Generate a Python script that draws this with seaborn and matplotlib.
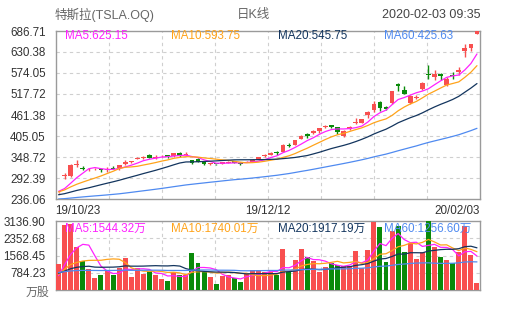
import numpy as np
import pandas as pd
import matplotlib
matplotlib.use("Agg")
import matplotlib.pyplot as plt
import seaborn as sns

# ---------------- data ----------------
dates = ["19/10/23", "19/10/24", "19/10/25", "19/10/28", "19/10/29", "19/10/30", "19/10/31",
         "19/11/01", "19/11/04", "19/11/05", "19/11/06", "19/11/07", "19/11/08", "19/11/11",
         "19/11/12", "19/11/13", "19/11/14", "19/11/15", "19/11/18", "19/11/19", "19/11/20",
         "19/11/21", "19/11/22", "19/11/25", "19/11/26", "19/11/27", "19/11/29",
         "19/12/02", "19/12/03", "19/12/04", "19/12/05", "19/12/06", "19/12/09", "19/12/10",
         "19/12/11", "19/12/12", "19/12/13", "19/12/16", "19/12/17", "19/12/18", "19/12/19",
         "19/12/20", "19/12/23", "19/12/24", "19/12/26", "19/12/27", "19/12/30", "19/12/31",
         "20/01/02", "20/01/03", "20/01/06", "20/01/07", "20/01/08", "20/01/09", "20/01/10",
         "20/01/13", "20/01/14", "20/01/15", "20/01/16", "20/01/17", "20/01/21", "20/01/22",
         "20/01/23", "20/01/24", "20/01/27", "20/01/28", "20/01/29", "20/01/30", "20/01/31",
         "20/02/03"]

opens = [254.50, 298.37, 297.72, 327.54, 319.99, 313.00, 313.10, 316.32, 314.80, 319.62,
         318.00, 329.14, 334.50, 343.95, 346.90, 355.00, 346.11, 350.64, 352.92, 351.35,
         360.00, 354.51, 340.16, 344.32, 335.27, 331.12, 331.11, 329.40, 332.62, 337.75,
         332.83, 335.00, 336.59, 339.97, 351.51, 354.92, 361.05, 362.55, 380.00, 380.63,
         397.32, 410.29, 411.78, 418.36, 427.91, 435.00, 428.79, 405.00, 424.50, 440.50,
         440.47, 461.40, 473.70, 497.10, 481.79, 493.50, 544.26, 529.76, 493.75, 507.61,
         530.25, 571.89, 564.25, 570.63, 541.99, 568.49, 575.69, 632.42, 640.00, 680.00]
highs = [256.14, 304.93, 330.00, 340.84, 324.30, 318.79, 319.00, 316.48, 321.94, 323.51,
         326.72, 341.50, 337.46, 349.19, 350.38, 356.33, 353.84, 352.80, 353.15, 359.99,
         361.20, 360.84, 341.00, 347.11, 335.50, 333.93, 331.26, 336.38, 337.91, 337.86,
         334.42, 338.86, 344.45, 350.06, 356.35, 362.74, 365.21, 383.61, 385.50, 395.22,
         406.85, 413.00, 422.01, 425.47, 433.48, 435.31, 429.00, 421.29, 430.70, 454.00,
         451.56, 471.63, 498.49, 498.80, 484.94, 525.63, 547.41, 537.84, 514.46, 515.67,
         548.58, 594.50, 582.00, 573.86, 564.44, 576.81, 589.80, 650.88, 653.00, 686.71]
lows = [251.35, 289.20, 296.11, 322.60, 314.75, 309.97, 313.00, 309.80, 309.26, 316.12,
        314.50, 328.02, 332.50, 342.10, 344.18, 345.18, 342.91, 348.36, 346.10, 347.80,
        349.57, 354.00, 330.00, 335.00, 327.10, 328.57, 327.50, 328.69, 332.19, 332.85,
        327.25, 334.77, 335.12, 339.97, 347.41, 353.23, 354.64, 362.50, 375.90, 380.58,
        396.50, 400.19, 410.00, 412.69, 426.35, 426.11, 409.26, 402.08, 421.71, 436.92,
        440.00, 453.36, 468.23, 472.87, 473.70, 492.00, 524.90, 516.79, 492.17, 503.16,
        528.41, 559.10, 555.60, 554.26, 539.28, 558.08, 567.43, 618.00, 632.52, 679.50]
closes = [254.68, 299.68, 328.13, 327.71, 316.22, 315.01, 314.92, 313.31, 317.47, 317.22,
          326.58, 335.54, 337.14, 345.09, 349.93, 346.11, 349.35, 352.17, 349.99, 359.52,
          352.22, 354.83, 333.04, 336.34, 328.92, 331.29, 329.94, 334.87, 336.20, 333.03,
          330.37, 335.89, 339.53, 348.84, 352.70, 359.68, 358.39, 381.50, 378.99, 393.15,
          404.04, 405.59, 419.22, 425.25, 430.94, 430.38, 414.70, 418.33, 430.26, 443.01,
          451.54, 469.06, 492.14, 481.34, 478.15, 524.86, 537.92, 518.50, 513.49, 510.50,
          547.20, 569.56, 572.20, 564.82, 558.02, 566.90, 580.99, 640.81, 650.57, 686.48]
# volume in 万股
volumes = [1160, 2972, 3000, 1950, 1300, 975, 525, 670, 880, 700,
           1020, 1470, 600, 1000, 735, 880, 660, 480, 430, 810,
           700, 660, 1690, 1245, 825, 585, 285, 645, 660, 555,
           375, 780, 915, 915, 830, 830, 680, 1845, 865, 1380,
           1845, 1490, 1340, 820, 1060, 1250, 1150, 1110, 1110, 1785,
           1020, 1800, 3110, 2860, 1290, 2680, 2900, 1740, 2150, 1394,
           1723.1, 3136.9, 1970, 1480, 1368, 1220, 1720, 2900, 1570, 312]

# history before the first visible day (needed for moving averages)
prior_closes = [241.61,
                233.85, 234.34, 228.32, 230.75, 233.42, 238.30, 235.01, 229.01, 235.00, 219.62,
                215.64, 219.94, 226.83, 225.86, 220.83, 222.15, 211.40, 215.00, 214.08, 215.59,
                221.71, 225.61,
                225.01, 220.68, 229.58, 227.45, 231.79, 235.54, 247.10, 245.87, 245.20, 242.81,
                244.79, 243.49, 246.60, 240.62, 241.23, 223.21, 228.70, 242.56, 242.13, 240.87,
                244.69, 243.13, 233.03, 231.43, 237.72, 240.05, 244.53, 244.74, 247.89, 256.96,
                257.89, 259.75, 261.97, 256.95, 253.50, 255.58]
prior_volumes = [930,
                 930, 880, 970, 890, 720, 830, 660, 660, 710, 1140,
                 1070, 780, 680, 640, 700, 660, 980, 810, 740, 660,
                 880, 850,
                 690, 610, 870, 680, 740, 790, 1390, 1040, 750, 670,
                 610, 550, 670, 930, 580, 1270, 1030, 1140, 730, 670,
                 640, 670, 1320, 820, 800, 650, 700, 640, 860, 1020,
                 660, 670, 490, 660, 470, 490]

ma_windows = [5, 10, 20, 60]
ma_colors = ["#ff22ff", "#ffa31a", "#13355e", "#4f8af0"]
price_ma_values = [625.15, 593.75, 545.75, 425.63]
vol_ma_values = [1544.32, 1740.01, 1917.19, 1256.60]
price_ticks = ["236.06", "292.39", "348.72", "405.05", "461.38", "517.72", "574.05", "630.38", "686.71"]
vol_ticks = ["784.23", "1568.45", "2352.68", "3136.90"]

RED = "#f84f4f"
GREEN = "#0a8a0a"

# ---------------- frame ----------------
df = pd.DataFrame(dict(date=dates, open=opens, high=highs, low=lows, close=closes, volume=volumes))
df["x"] = np.arange(len(df)) + 0.5
df["dir"] = np.where(df["close"] >= df["open"], "up", "down")
n0 = len(prior_closes)
all_c = pd.Series(prior_closes + closes)
all_v = pd.Series(prior_volumes + volumes)
for w in ma_windows:
    df[f"ma{w}"] = all_c.rolling(w, min_periods=1).mean().iloc[n0:].values
    df[f"vma{w}"] = all_v.rolling(w, min_periods=1).mean().iloc[n0:].values

sns.set_theme(style="white")
plt.rcParams["font.family"] = ["Liberation Sans", "Noto Sans CJK SC", "DejaVu Sans"]

W, H = 505, 310
fig = plt.figure(figsize=(W / 100, H / 100), dpi=100)
L, R = 55.5, 480
ax1 = fig.add_axes([L / W, (H - 199) / H, (R - L) / W, 168 / H])
ax2 = fig.add_axes([L / W, (H - 290) / H, (R - L) / W, 69 / H])

n = len(df)
cols = np.where(df["dir"] == "up", RED, GREEN)

# candles
ax1.vlines(df["x"], df["low"], df["high"], colors=cols, lw=1.0, zorder=3)
body_bottom = np.minimum(df["open"], df["close"])
body_h = np.maximum(np.abs(df["close"] - df["open"]), 1.6)
ax1.bar(df["x"], body_h, bottom=body_bottom, width=0.78, color=cols, linewidth=0, zorder=4)

for w, c in zip(ma_windows, ma_colors):
    sns.lineplot(data=df, x="x", y=f"ma{w}", color=c, lw=0.9, ax=ax1, zorder=5)

# volume
ax2.bar(df["x"], df["volume"], width=0.82, color=cols, linewidth=0, zorder=3)
for w, c in zip(ma_windows, ma_colors):
    sns.lineplot(data=df, x="x", y=f"vma{w}", color=c, lw=0.9, ax=ax2, zorder=5)

grid_kw = dict(color="#cfcfcf", lw=0.8, ls=(0, (3, 3)), zorder=0)
for ax in (ax1, ax2):
    ax.set_xlim(0, n)
    for i in range(1, 8):
        ax.axvline(n * i / 8, **grid_kw)
    for s in ax.spines.values():
        s.set_color("#9a9a9a")
        s.set_linewidth(1.0)
    ax.set_xlabel("")
    ax.set_ylabel("")
    ax.tick_params(axis="both", length=0, labelsize=8.4, labelcolor="#333333")
    ax.tick_params(axis="y", pad=7)

pt = [float(t) for t in price_ticks]
ax1.set_ylim(pt[0], pt[-1])
ax1.set_yticks(pt)
ax1.set_yticklabels(price_ticks)
for v in pt[1:-1]:
    ax1.axhline(v, **grid_kw)

vt = [float(t) for t in vol_ticks]
ax2.set_ylim(0, vt[-1])
ax2.set_yticks(vt)
ax2.set_yticklabels(vol_ticks)
for v in vt[:-1]:
    ax2.axhline(v, **grid_kw)
ax2.set_xticks([])

mid = n // 2
ax1.set_xticks([0, mid, n])
ax1.set_xticklabels([dates[0], dates[mid], dates[-1]])
ax1.tick_params(axis="x", pad=4)
labs = ax1.get_xticklabels()
labs[0].set_ha("left")
labs[2].set_ha("right")

# legends
for i, (w, c) in enumerate(zip(ma_windows, ma_colors)):
    x0 = (65 + i * 106.3) / W
    fig.text(x0, 1 - 36 / H, f"MA{w}:{price_ma_values[i]:.2f}", color=c, fontsize=8.4, va="center")
    fig.text(x0, 1 - 228.5 / H, f"MA{w}:{vol_ma_values[i]:.2f}万", color=c, fontsize=8.4, va="center")

fig.text(49 / W, 1 - 293 / H, "万股", color="#666666", fontsize=8.6, ha="right", va="center")
fig.text(55 / W, 1 - 15 / H, "特斯拉(TSLA.OQ)", color="#666666", fontsize=9, va="center")
fig.text(253.5 / W, 1 - 15 / H, "日K线", color="#666666", fontsize=9, ha="center", va="center")
fig.text(480 / W, 1 - 15 / H, "2020-02-03 09:35", color="#444444", fontsize=9, ha="right", va="center")

fig.savefig("out.png", dpi=100, facecolor="white")
